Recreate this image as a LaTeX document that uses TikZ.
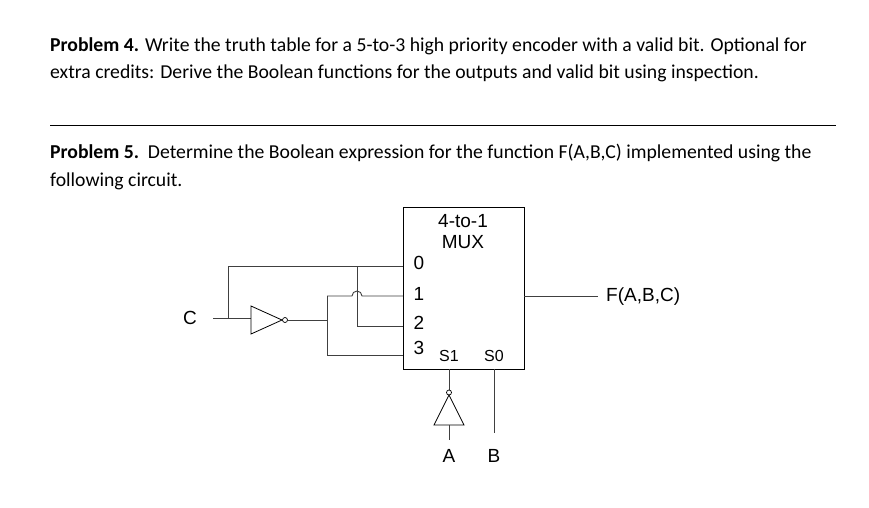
\documentclass[tikz,border=0pt]{standalone}
\usepackage{fontspec}
\setmainfont{Carlito}
\newfontfamily\arialf{Liberation Sans}
\begin{document}
\begin{tikzpicture}[x=1pt,y=-1pt,
  wire/.style={line width=0.9pt,draw=black!75},
  txt/.style={anchor=base west,inner sep=0,font=\fontsize{19.7}{23}\selectfont},
  lab/.style={inner sep=0,font=\arialf\fontsize{19}{21}\selectfont},
  slab/.style={inner sep=0,font=\arialf\fontsize{16}{18}\selectfont}]
\useasboundingbox[fill=white] (0,0) rectangle (869,507);
\node[txt] (p4a) at (50,51) {\textbf{Problem 4.} Write the truth table for a 5-to-3 high priority encoder with a valid bit. Optional for};
\node[txt] (p4b) at (50,78) {extra credits: Derive the Boolean functions for the outputs and valid bit using inspection.};
\draw[line width=0.8pt] (50,125) -- (836,125);
\node[txt] (p5a) at (50,158) {\textbf{Problem 5.}\ \ Determine the Boolean expression for the function F(A,B,C) implemented using the};
\node[txt] (p5b) at (50,186) {following circuit.};
% mux
\draw[line width=0.9pt] (403,207) rectangle (524,369);
\node[lab,align=center] (mt) at (463,232) {4-to-1\\MUX};
\node[lab] (i0) at (419,263) {0};
\node[lab] (i1) at (419,294) {1};
\node[lab] (i2) at (419,323) {2};
\node[lab] (i3) at (419,348) {3};
\node[slab] (s1) at (449,356) {S1};
\node[slab] (s0) at (494,356) {S0};
% C input
\node[lab] (c) at (190,318) {C};
\coordinate (cj) at (228,318);
\draw[wire] (213,318) -- (251,318);
\draw[wire] (cj) -- (228,266) -- (403,266);
\draw[line width=0.8pt] (251,306) -- (282,320) -- (251,334) -- cycle;
\draw[line width=0.7pt] (285,320) circle (2.5);
\draw[wire] (287.5,320) -- (327,320);
\draw[wire] (327,296) -- (327,355) -- (403,355);
\draw[wire] (327,296) -- (352,296) arc (180:360:5) -- (403,296);
\draw[wire] (357,266) -- (357,326) -- (403,326);
% output
\draw[wire] (524,296) -- (598,296);
\node[lab,anchor=west] (f) at (606,297) {F(A,B,C)};
% selects
\draw[wire] (449,369) -- (449,390);
\draw[line width=0.7pt] (449,392.5) circle (2.5);
\draw[line width=0.8pt] (449,395) -- (464,425) -- (434,425) -- cycle;
\draw[wire] (449,425) -- (449,440);
\node[lab] (a) at (449,456) {A};
\draw[wire] (494,369) -- (494,433);
\node[lab] (b) at (494,456) {B};
\end{tikzpicture}
\end{document}
